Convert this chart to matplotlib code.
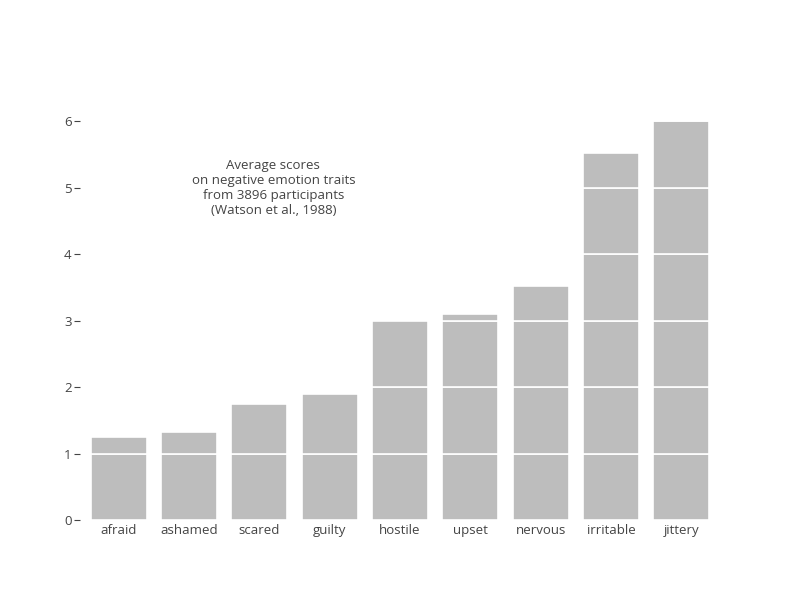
import matplotlib
matplotlib.use("Agg")
import matplotlib.pyplot as plt
import numpy as np

plt.rcParams['font.family'] = ['Open Sans', 'DejaVu Sans']

traits = ['afraid', 'ashamed', 'scared', 'guilty', 'hostile', 'upset', 'nervous', 'irritable', 'jittery']
scores = [1.25, 1.32, 1.75, 1.90, 3.00, 3.10, 3.52, 5.52, 6.02]
yticks = [0, 1, 2, 3, 4, 5, 6]

fig = plt.figure(figsize=(8, 6), dpi=100)
ax = fig.add_axes([0.1, 0.1333, 0.8, 0.7333])

x = np.arange(len(traits))
# stack unit-height blocks so each integer level shows as a white seam
for i, v in enumerate(scores):
    base = 0.0
    while base < v - 1e-9:
        h = min(1.0, v - base)
        ax.bar(x[i], h, bottom=base, width=0.8, color='#bdbdbd',
               edgecolor='white', linewidth=1.2)
        base += h

ax.set_xlim(-0.55, len(traits) - 0.45)
ax.set_ylim(0, 6.62)
ax.set_xticks(x)
ax.set_xticklabels(traits)
ax.set_yticks(yticks)
ax.tick_params(axis='x', length=0, labelsize=9.5, colors='#444444', pad=3)
ax.tick_params(axis='y', length=4, width=0.8, color='#444444', labelsize=9.5,
               labelcolor='#444444', pad=2)
for s in ax.spines.values():
    s.set_visible(False)

ax.text(2.2, 5.0, 'Average scores\non negative emotion traits\nfrom 3896 participants\n(Watson et al., 1988)',
        ha='center', va='center', fontsize=9.5, color='#444444', linespacing=1.2)

fig.savefig('out.png', dpi=100)
